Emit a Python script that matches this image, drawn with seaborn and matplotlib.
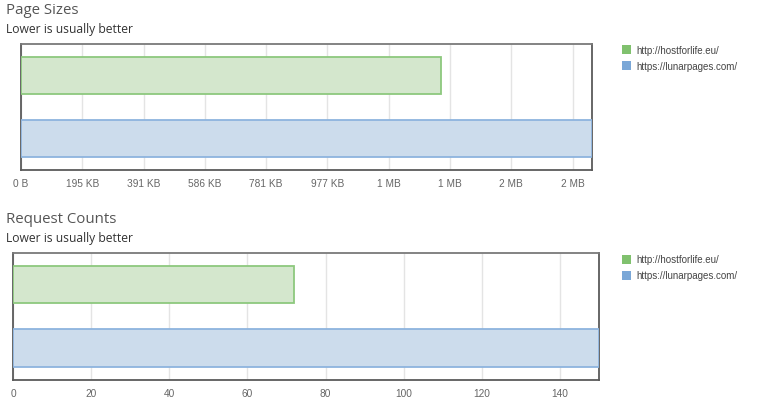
import matplotlib
matplotlib.use("Agg")
import matplotlib.pyplot as plt
import seaborn as sns
import pandas as pd
from matplotlib.patches import Rectangle

sites = ["http://hostforlife.eu/", "https://lunarpages.com/"]
page_sizes = [1372000, 1862000]          # bytes
request_counts = [72, 150]
size_ticks = [0, 200000, 400000, 600000, 800000, 1000000, 1200000, 1400000, 1600000, 1800000]
size_tick_labels = ["0 B", "195 KB", "391 KB", "586 KB", "781 KB", "977 KB", "1 MB", "1 MB", "2 MB", "2 MB"]
count_ticks = [0, 20, 40, 60, 80, 100, 120, 140]
count_tick_labels = ["0", "20", "40", "60", "80", "100", "120", "140"]

fill_colors = ["#d4e7cd", "#ccdcec"]
edge_colors = ["#8dc87e", "#8db4de"]
legend_colors = ["#80c16e", "#7aa7d7"]

sns.set_theme(style="white")
plt.rcParams['font.family'] = ['Liberation Sans', 'DejaVu Sans']

W, H = 768, 402
fig = plt.figure(figsize=(W / 100, H / 100), dpi=100)


def px_axes(left, top, right, bottom):
    return fig.add_axes([left / W, 1 - bottom / H, (right - left) / W, (bottom - top) / H])


def draw_panel(ax, values, ticks, labels, title, ty, legend_top):
    df = pd.DataFrame({"site": sites, "value": values})
    sns.barplot(data=df, x="value", y="site", hue="site", palette=fill_colors,
                saturation=1, width=0.59, linewidth=1.3, legend=False, ax=ax, zorder=3)
    for p, ec in zip(ax.patches, edge_colors):
        p.set_edgecolor(ec)
    ax.set_xlim(0, max(values))
    ax.set_ylim(1.5, -0.5)
    ax.set_xticks(ticks)
    ax.set_xticklabels(labels, fontsize=7.3, color="#666666")
    ax.set_yticks([])
    ax.set_xlabel("")
    ax.set_ylabel("")
    ax.tick_params(axis="x", length=0, pad=6)
    ax.grid(axis="x", color="#e4e4e4", linewidth=1, zorder=0)
    ax.set_axisbelow(True)
    for s in ax.spines.values():
        s.set_visible(True)
        s.set_color("#5a5a5a")
        s.set_linewidth(1.3)
    ax.spines["top"].set_color("#7a7a7a")
    fig.text(6 / W, 1 - (ty + 1) / H, title, fontsize=10.8, color="#555555",
             family=["Open Sans", "DejaVu Sans"], va="center", ha="left")
    fig.text(6 / W, 1 - (ty + 20) / H, "Lower is usually better", fontsize=8.7,
             color="#333333", family=["Open Sans", "DejaVu Sans"], va="center", ha="left")
    for i, (site, c) in enumerate(zip(sites, legend_colors)):
        cy = legend_top + i * 16
        fig.patches.append(Rectangle((622 / W, 1 - (cy + 4.5) / H), 9 / W, 9 / H,
                                     facecolor=c, edgecolor="none",
                                     transform=fig.transFigure, figure=fig))
        fig.text(636 / W, 1 - cy / H, site, fontsize=7.0, color="#444444",
                 va="center", ha="left")


ax1 = px_axes(21, 44.7, 591.5, 170.7)
draw_panel(ax1, page_sizes, size_ticks, size_tick_labels, "Page Sizes", 10, 50.5)

ax2 = px_axes(13, 253.7, 599, 380.7)
draw_panel(ax2, request_counts, count_ticks, count_tick_labels, "Request Counts", 219, 260)

fig.savefig("out.png", dpi=100)
